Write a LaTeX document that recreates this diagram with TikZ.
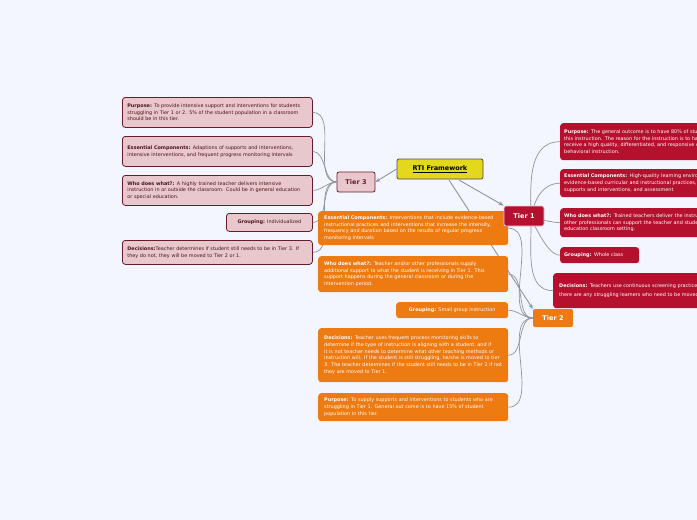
\documentclass[tikz,border=0pt]{standalone}
\usepackage{fontspec}
\setmainfont{DejaVu Sans}
\usetikzlibrary{arrows.meta}
\hyphenpenalty=10000
\exhyphenpenalty=10000
\definecolor{bg}{HTML}{F3F6FE}
\definecolor{pk}{HTML}{E8C8CC}
\definecolor{pkd}{HTML}{6B1A2A}
\definecolor{rd}{HTML}{B5102E}
\definecolor{og}{HTML}{EE7A12}
\definecolor{yl}{HTML}{E4D81C}
\definecolor{ln}{HTML}{8E939E}
\begin{document}
\begin{tikzpicture}[x=1pt,y=-1pt,
  box/.style={rounded corners=3pt,align=left,inner sep=0pt,font=\fontsize{4.9}{6.7}\selectfont,anchor=north west},
  pbox/.style={box,fill=pk,draw=pkd,line width=0.8pt,text=pkd!70!black},
  rbox/.style={box,fill=rd,text=white},
  obox/.style={box,fill=og,text=white},
  conn/.style={draw=ln,line width=0.7pt},
  arr/.style={draw=ln,line width=0.9pt,-{Stealth[length=5pt,width=4pt]}},
  tier/.style={rounded corners=2pt,font=\bfseries\fontsize{6.5}{8}\selectfont,inner sep=0pt}]
\useasboundingbox (0,0) rectangle (697,520);
\fill[bg] (0,0) rectangle (697,520);
\clip (0,0) rectangle (697,520);
% main nodes
\node[tier,fill=yl,draw=black!70,line width=0.8pt,minimum width=86pt,minimum height=20pt] (rti) at (440,169) {\underline{RTI Framework}};
\node[tier,fill=pk,draw=pkd,line width=0.8pt,text=pkd,minimum width=38pt,minimum height=20pt] (t3) at (356,182) {Tier 3};
\coordinate (t1c) at (524,216);
\node[tier,fill=og,text=white,minimum width=40pt,minimum height=18pt] (t2) at (553,318) {Tier 2};
\coordinate (rtiA) at (449,180);
\draw[arr] (rtiA) -- (t2.north west);
% Tier 3 children
\node[pbox,minimum width=190pt,minimum height=30pt,text width=180pt,inner xsep=4pt] (p3a) at (122,97) {\textbf{Purpose:} To provide intensive support and interventions for students struggling in Tier 1 or 2. 5\% of the student population in a classroom should be in this tier.};
\node[pbox,minimum width=190pt,minimum height=30pt,text width=180pt,inner xsep=4pt] (p3b) at (122,136) {\textbf{Essential Components:} Adaptions of supports and interventions, intensive interventions, and frequent progress monitoring intervals};
\node[pbox,minimum width=190pt,minimum height=30pt,text width=180pt,inner xsep=4pt] (p3c) at (122,175) {\textbf{Who does what?:} A highly trained teacher delivers intensive instruction in or outside the classroom. Could be in general education or special education.};
\node[pbox,minimum width=86pt,minimum height=18pt,align=center] (p3d) at (226,213) {\textbf{Grouping:} Individualized};
\node[pbox,minimum width=190pt,minimum height=24pt,text width=180pt,inner xsep=4pt] (p3e) at (122,240) {\textbf{Decisions:}Teacher determines if student still needs to be in Tier 3. If they do not, they will be moved to Tier 2 or 1.};
\foreach \c in {p3a,p3b,p3c,p3d,p3e}
  \draw[conn] (t3.west) to[out=180,in=0,looseness=0.9] (\c.east);
% Tier 1 children
\coordinate (t1s) at (531,226);
\node[rbox,minimum width=190pt,minimum height=37pt,text width=182pt,inner xsep=4pt] (r1a) at (560,123) {\textbf{Purpose:} The general outcome is to have 80\% of students align with this instruction. The reason for the instruction is to have students receive a high quality, differentiated, and responsive core academic and behavioral instruction.};
\node[rbox,minimum width=190pt,minimum height=28pt,text width=182pt,inner xsep=4pt] (r1b) at (560,169) {\textbf{Essential Components:} High-quality learning environment, evidence-based curricular and instructional practices, a continuum of supports and interventions, and assessment};
\node[rbox,minimum width=190pt,minimum height=29pt,text width=182pt,inner xsep=4pt] (r1c) at (560,208) {\textbf{Who does what?:} Trained teachers deliver the instructions and other professionals can support the teacher and students in a general education classroom setting.};
\node[rbox,minimum width=79pt,minimum height=16pt,text width=71pt,inner xsep=4pt] (r1d) at (560,247) {\textbf{Grouping:} Whole class};
\node[rbox,minimum width=200pt,minimum height=35pt,text width=190pt,inner xsep=6pt,font=\fontsize{4.9}{9}\selectfont] (r1e) at (553,273) {\textbf{Decisions:} Teachers use continuous screening practices to determine if there are any struggling learners who need to be moved up a tier.};
\foreach \c in {r1a,r1b,r1c,r1d}
  \draw[conn] (t1s) to[out=90,in=180] (\c.west);
\draw[conn] (t1s) to[out=270,in=180] (r1e.west);
% Tier 2 children
\node[obox,minimum width=190pt,minimum height=34pt,text width=178pt,inner xsep=6pt] (o2a) at (318,211) {\textbf{Essential Components:} Interventions that include evidence-based instructional practices and interventions that increase the intensity, frequency and duration based on the results of regular progress monitoring intervals};
\node[obox,minimum width=190pt,minimum height=36pt,text width=178pt,inner xsep=6pt] (o2b) at (318,256) {\textbf{Who does what?:} Teacher and/or other professionals supply additional support to what the student is receiving in Tier 1. This support happens during the general classroom or during the intervention period.};
\node[obox,minimum width=112pt,minimum height=16pt,align=center] (o2c) at (396,302) {\textbf{Grouping:} Small group instruction};
\node[obox,minimum width=190pt,minimum height=54pt,text width=178pt,inner xsep=6pt] (o2d) at (318,328) {\textbf{Decisions:} Teacher uses frequent process monitoring skills to determine if the type of instruction is aligning with a student, and if it is not teacher needs to determine what other teaching methods or instruction will. If the student is still struggling, he/she is moved to tier 3. The teacher determines if the student still needs to be in Tier 2 if not they are moved to Tier 1.};
\node[obox,minimum width=190pt,minimum height=28pt,text width=178pt,inner xsep=6pt] (o2e) at (318,393) {\textbf{Purpose:} To supply supports and interventions to students who are struggling in Tier 1. General out come is to have 15\% of student population in this tier.};
\foreach \c in {o2a,o2b,o2c,o2d,o2e}
  \draw[conn] (t2.west) to[out=180,in=0,looseness=0.9] (\c.east);
\node[tier,fill=rd,draw=white!80!rd,line width=0.8pt,text=white,minimum width=40pt,minimum height=20pt] (t1) at (t1c) {Tier 1};
% arrows
\draw[arr] (rti.west) -- (t3.east);
\draw[arr] (459,180) -- (t1.north west);
\end{tikzpicture}
\end{document}
